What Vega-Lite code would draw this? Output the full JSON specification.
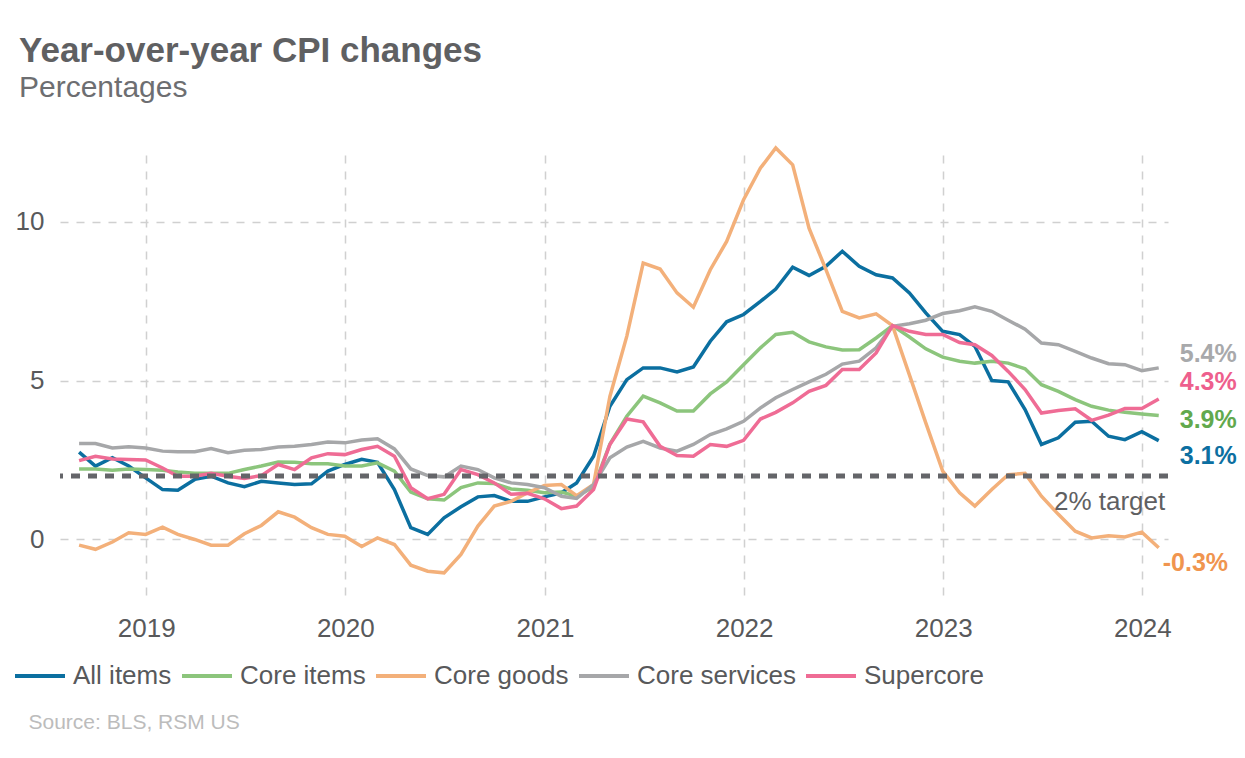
{
  "$schema": "https://vega.github.io/schema/vega-lite/v6.json",
  "width": 1108,
  "height": 448,
  "autosize": {"type": "none"},
  "padding": {"left": 60, "top": 155, "right": 77, "bottom": 155},
  "background": "white",
  "config": {"view": {"stroke": null}, "font": "Liberation Sans"},
  "title": {
    "text": "Year-over-year CPI changes",
    "subtitle": "Percentages",
    "anchor": "start",
    "frame": "group",
    "dx": -41,
    "offset": 38,
    "font": "Liberation Sans",
    "fontSize": 35,
    "fontWeight": "bold",
    "color": "#5f6062",
    "subtitleFont": "Liberation Sans",
    "subtitleFontSize": 30,
    "subtitleColor": "#6d6e71",
    "subtitlePadding": 4
  },
  "datasets": {
    "cpi": [
      {"d": "2018-08-31", "All items": 2.75, "Core items": 2.22, "Core goods": -0.18, "Core services": 3.02, "Supercore": 2.48},
      {"d": "2018-09-30", "All items": 2.31, "Core items": 2.22, "Core goods": -0.31, "Core services": 3.02, "Supercore": 2.62},
      {"d": "2018-10-31", "All items": 2.57, "Core items": 2.18, "Core goods": -0.08, "Core services": 2.88, "Supercore": 2.53},
      {"d": "2018-11-30", "All items": 2.31, "Core items": 2.22, "Core goods": 0.21, "Core services": 2.92, "Supercore": 2.52},
      {"d": "2018-12-31", "All items": 1.94, "Core items": 2.2, "Core goods": 0.16, "Core services": 2.88, "Supercore": 2.5},
      {"d": "2019-01-31", "All items": 1.57, "Core items": 2.18, "Core goods": 0.39, "Core services": 2.78, "Supercore": 2.25},
      {"d": "2019-02-28", "All items": 1.55, "Core items": 2.12, "Core goods": 0.16, "Core services": 2.76, "Supercore": 1.99},
      {"d": "2019-03-31", "All items": 1.89, "Core items": 2.08, "Core goods": 0.0, "Core services": 2.76, "Supercore": 1.99},
      {"d": "2019-04-30", "All items": 1.99, "Core items": 2.08, "Core goods": -0.18, "Core services": 2.86, "Supercore": 2.08},
      {"d": "2019-05-31", "All items": 1.78, "Core items": 2.08, "Core goods": -0.18, "Core services": 2.73, "Supercore": 1.99},
      {"d": "2019-06-30", "All items": 1.66, "Core items": 2.2, "Core goods": 0.18, "Core services": 2.81, "Supercore": 1.92},
      {"d": "2019-07-31", "All items": 1.83, "Core items": 2.31, "Core goods": 0.44, "Core services": 2.83, "Supercore": 2.01},
      {"d": "2019-08-31", "All items": 1.78, "Core items": 2.44, "Core goods": 0.87, "Core services": 2.91, "Supercore": 2.36},
      {"d": "2019-09-30", "All items": 1.73, "Core items": 2.43, "Core goods": 0.7, "Core services": 2.93, "Supercore": 2.2},
      {"d": "2019-10-31", "All items": 1.75, "Core items": 2.38, "Core goods": 0.37, "Core services": 2.99, "Supercore": 2.57},
      {"d": "2019-11-30", "All items": 2.15, "Core items": 2.38, "Core goods": 0.16, "Core services": 3.07, "Supercore": 2.7},
      {"d": "2019-12-31", "All items": 2.36, "Core items": 2.31, "Core goods": 0.1, "Core services": 3.04, "Supercore": 2.67},
      {"d": "2020-01-31", "All items": 2.52, "Core items": 2.31, "Core goods": -0.22, "Core services": 3.13, "Supercore": 2.83},
      {"d": "2020-02-29", "All items": 2.43, "Core items": 2.41, "Core goods": 0.05, "Core services": 3.17, "Supercore": 2.93},
      {"d": "2020-03-31", "All items": 1.57, "Core items": 2.15, "Core goods": -0.16, "Core services": 2.85, "Supercore": 2.62},
      {"d": "2020-04-30", "All items": 0.37, "Core items": 1.49, "Core goods": -0.81, "Core services": 2.22, "Supercore": 1.63},
      {"d": "2020-05-31", "All items": 0.16, "Core items": 1.28, "Core goods": -1.0, "Core services": 2.01, "Supercore": 1.28},
      {"d": "2020-06-30", "All items": 0.68, "Core items": 1.24, "Core goods": -1.05, "Core services": 1.97, "Supercore": 1.42},
      {"d": "2020-07-31", "All items": 1.03, "Core items": 1.63, "Core goods": -0.47, "Core services": 2.31, "Supercore": 2.2},
      {"d": "2020-08-31", "All items": 1.34, "Core items": 1.78, "Core goods": 0.42, "Core services": 2.2, "Supercore": 2.04},
      {"d": "2020-09-30", "All items": 1.38, "Core items": 1.76, "Core goods": 1.05, "Core services": 1.94, "Supercore": 1.78},
      {"d": "2020-10-31", "All items": 1.2, "Core items": 1.59, "Core goods": 1.2, "Core services": 1.78, "Supercore": 1.42},
      {"d": "2020-11-30", "All items": 1.2, "Core items": 1.55, "Core goods": 1.47, "Core services": 1.73, "Supercore": 1.45},
      {"d": "2020-12-31", "All items": 1.34, "Core items": 1.47, "Core goods": 1.7, "Core services": 1.63, "Supercore": 1.28},
      {"d": "2021-01-31", "All items": 1.47, "Core items": 1.49, "Core goods": 1.73, "Core services": 1.36, "Supercore": 0.97},
      {"d": "2021-02-28", "All items": 1.78, "Core items": 1.36, "Core goods": 1.38, "Core services": 1.29, "Supercore": 1.05},
      {"d": "2021-03-31", "All items": 2.62, "Core items": 1.65, "Core goods": 1.73, "Core services": 1.73, "Supercore": 1.57},
      {"d": "2021-04-30", "All items": 4.19, "Core items": 3.0, "Core goods": 4.5, "Core services": 2.57, "Supercore": 2.99},
      {"d": "2021-05-31", "All items": 5.03, "Core items": 3.88, "Core goods": 6.4, "Core services": 2.91, "Supercore": 3.79},
      {"d": "2021-06-30", "All items": 5.4, "Core items": 4.51, "Core goods": 8.7, "Core services": 3.09, "Supercore": 3.7},
      {"d": "2021-07-31", "All items": 5.4, "Core items": 4.3, "Core goods": 8.51, "Core services": 2.88, "Supercore": 2.93},
      {"d": "2021-08-31", "All items": 5.27, "Core items": 4.04, "Core goods": 7.76, "Core services": 2.78, "Supercore": 2.64},
      {"d": "2021-09-30", "All items": 5.43, "Core items": 4.04, "Core goods": 7.31, "Core services": 2.99, "Supercore": 2.62},
      {"d": "2021-10-31", "All items": 6.24, "Core items": 4.58, "Core goods": 8.49, "Core services": 3.3, "Supercore": 2.99},
      {"d": "2021-11-30", "All items": 6.85, "Core items": 4.96, "Core goods": 9.38, "Core services": 3.48, "Supercore": 2.93},
      {"d": "2021-12-31", "All items": 7.08, "Core items": 5.5, "Core goods": 10.69, "Core services": 3.72, "Supercore": 3.12},
      {"d": "2022-01-31", "All items": 7.49, "Core items": 6.03, "Core goods": 11.69, "Core services": 4.14, "Supercore": 3.79},
      {"d": "2022-02-28", "All items": 7.88, "Core items": 6.45, "Core goods": 12.32, "Core services": 4.46, "Supercore": 4.0},
      {"d": "2022-03-31", "All items": 8.57, "Core items": 6.52, "Core goods": 11.79, "Core services": 4.72, "Supercore": 4.3},
      {"d": "2022-04-30", "All items": 8.31, "Core items": 6.22, "Core goods": 9.8, "Core services": 4.96, "Supercore": 4.66},
      {"d": "2022-05-31", "All items": 8.6, "Core items": 6.06, "Core goods": 8.49, "Core services": 5.2, "Supercore": 4.85},
      {"d": "2022-06-30", "All items": 9.07, "Core items": 5.96, "Core goods": 7.18, "Core services": 5.52, "Supercore": 5.35},
      {"d": "2022-07-31", "All items": 8.6, "Core items": 5.97, "Core goods": 6.97, "Core services": 5.61, "Supercore": 5.35},
      {"d": "2022-08-31", "All items": 8.33, "Core items": 6.34, "Core goods": 7.1, "Core services": 6.03, "Supercore": 5.87},
      {"d": "2022-09-30", "All items": 8.23, "Core items": 6.73, "Core goods": 6.73, "Core services": 6.71, "Supercore": 6.73},
      {"d": "2022-10-31", "All items": 7.76, "Core items": 6.37, "Core goods": 5.18, "Core services": 6.79, "Supercore": 6.55},
      {"d": "2022-11-30", "All items": 7.13, "Core items": 6.0, "Core goods": 3.67, "Core services": 6.9, "Supercore": 6.45},
      {"d": "2022-12-31", "All items": 6.55, "Core items": 5.74, "Core goods": 2.15, "Core services": 7.11, "Supercore": 6.45},
      {"d": "2023-01-31", "All items": 6.45, "Core items": 5.61, "Core goods": 1.47, "Core services": 7.2, "Supercore": 6.2},
      {"d": "2023-02-28", "All items": 6.08, "Core items": 5.55, "Core goods": 1.05, "Core services": 7.32, "Supercore": 6.13},
      {"d": "2023-03-31", "All items": 5.0, "Core items": 5.61, "Core goods": 1.57, "Core services": 7.18, "Supercore": 5.79},
      {"d": "2023-04-30", "All items": 4.96, "Core items": 5.55, "Core goods": 2.04, "Core services": 6.9, "Supercore": 5.29},
      {"d": "2023-05-31", "All items": 4.09, "Core items": 5.37, "Core goods": 2.08, "Core services": 6.62, "Supercore": 4.72},
      {"d": "2023-06-30", "All items": 2.99, "Core items": 4.87, "Core goods": 1.36, "Core services": 6.18, "Supercore": 3.98},
      {"d": "2023-07-31", "All items": 3.2, "Core items": 4.66, "Core goods": 0.79, "Core services": 6.13, "Supercore": 4.06},
      {"d": "2023-08-31", "All items": 3.69, "Core items": 4.4, "Core goods": 0.26, "Core services": 5.92, "Supercore": 4.11},
      {"d": "2023-09-30", "All items": 3.72, "Core items": 4.19, "Core goods": 0.05, "Core services": 5.71, "Supercore": 3.75},
      {"d": "2023-10-31", "All items": 3.25, "Core items": 4.07, "Core goods": 0.12, "Core services": 5.53, "Supercore": 3.91},
      {"d": "2023-11-30", "All items": 3.14, "Core items": 4.0, "Core goods": 0.08, "Core services": 5.5, "Supercore": 4.12},
      {"d": "2023-12-31", "All items": 3.39, "Core items": 3.95, "Core goods": 0.23, "Core services": 5.31, "Supercore": 4.12},
      {"d": "2024-01-31", "All items": 3.11, "Core items": 3.9, "Core goods": -0.26, "Core services": 5.4, "Supercore": 4.42}
    ],
    "labels": [
      {"s": "Core services", "t": "5.4%", "v": 5.4, "d": "2024-01-31"},
      {"s": "Supercore", "t": "4.3%", "v": 4.3, "d": "2024-01-31"},
      {"s": "Core items", "t": "3.9%", "v": 3.9, "d": "2024-01-31"},
      {"s": "All items", "t": "3.1%", "v": 3.1, "d": "2024-01-31"},
      {"s": "Core goods", "t": "-0.3%", "v": -0.3, "d": "2024-01-31"}
    ],
    "target": [
      {"t": "2% target", "v": 2, "d": "2024-02-12"}
    ]
  },
  "layer": [
    {
      "data": {"name": "cpi"},
      "transform": [{"fold": ["All items", "Core items", "Core goods", "Core services", "Supercore"], "as": ["series", "val"]}],
      "mark": {"type": "line", "strokeWidth": 3.5},
      "encoding": {
        "x": {
          "field": "d", "type": "temporal",
          "scale": {"type": "utc", "domain": [{"year": 2018, "month": 7, "date": 27, "utc": true}, {"year": 2024, "month": 2, "date": 17, "utc": true}]},
          "axis": {
            "values": [{"year": 2019, "month": 1, "date": 1, "utc": true}, {"year": 2020, "month": 1, "date": 1, "utc": true}, {"year": 2021, "month": 1, "date": 1, "utc": true}, {"year": 2022, "month": 1, "date": 1, "utc": true}, {"year": 2023, "month": 1, "date": 1, "utc": true}, {"year": 2024, "month": 1, "date": 1, "utc": true}],
            "format": "%Y",
            "grid": true, "gridDash": [8, 8], "gridColor": "#d0d0d0", "gridWidth": 1.5,
            "ticks": false, "domain": false,
            "labelFontSize": 26, "labelColor": "#58595b", "labelPadding": 12, "labelFont": "Liberation Sans",
            "title": "Source: BLS, RSM US",
            "titleX": -32, "titleY": 119, "titleAlign": "left", "titleBaseline": "middle",
            "titleFontSize": 21, "titleFontWeight": "normal", "titleColor": "#bcbcbc", "titleFont": "Liberation Sans"
          }
        },
        "y": {
          "field": "val", "type": "quantitative",
          "scale": {"domain": [-2, 12.1], "nice": false, "zero": false},
          "axis": {
            "values": [0, 5, 10], "title": null,
            "grid": true, "gridDash": [8, 8], "gridColor": "#d0d0d0", "gridWidth": 1.5,
            "ticks": false, "domain": false,
            "labelFontSize": 26, "labelColor": "#58595b", "labelPadding": 16, "labelFont": "Liberation Sans"
          }
        },
        "color": {
          "field": "series", "type": "nominal",
          "scale": {"domain": ["All items", "Core items", "Core goods", "Core services", "Supercore"], "range": ["#0b6fa0", "#8cc57c", "#f3b07a", "#a6a7a9", "#ef6c95"]},
          "legend": {
            "orient": "none", "legendX": -47, "legendY": 494, "direction": "horizontal", "title": null,
            "symbolType": "stroke", "symbolSize": 2500, "symbolStrokeWidth": 4,
            "labelFontSize": 26, "labelColor": "#58595b", "labelFont": "Liberation Sans",
            "labelOffset": 6, "columnPadding": 2, "padding": 0
          }
        }
      }
    },
    {
      "data": {"name": "target"},
      "mark": {"type": "rule", "strokeDash": [9, 8], "strokeWidth": 5, "color": "#646569"},
      "encoding": {
        "y": {"field": "v", "type": "quantitative", "scale": {"domain": [-2, 12.1], "nice": false, "zero": false}}
      }
    },
    {
      "data": {"name": "target"},
      "mark": {"type": "text", "align": "right", "baseline": "middle", "dy": 26, "fontSize": 26, "color": "#5f6062", "font": "Liberation Sans"},
      "encoding": {
        "x": {"field": "d", "type": "temporal", "scale": {"type": "utc", "domain": [{"year": 2018, "month": 7, "date": 27, "utc": true}, {"year": 2024, "month": 2, "date": 17, "utc": true}]}},
        "y": {"field": "v", "type": "quantitative", "scale": {"domain": [-2, 12.1], "nice": false, "zero": false}},
        "text": {"field": "t"}
      }
    },
    {
      "data": {"name": "labels"},
      "transform": [{"filter": {"field": "s", "equal": "Core services"}}],
      "mark": {"type": "text", "align": "left", "baseline": "middle", "dx": 21, "dy": -14, "fontSize": 25, "fontWeight": "bold", "color": "#a8a9ab", "font": "Liberation Sans"},
      "encoding": {
        "x": {"field": "d", "type": "temporal", "scale": {"type": "utc", "domain": [{"year": 2018, "month": 7, "date": 27, "utc": true}, {"year": 2024, "month": 2, "date": 17, "utc": true}]}},
        "y": {"field": "v", "type": "quantitative", "scale": {"domain": [-2, 12.1], "nice": false, "zero": false}},
        "text": {"field": "t"}
      }
    },
    {
      "data": {"name": "labels"},
      "transform": [{"filter": {"field": "s", "equal": "Supercore"}}],
      "mark": {"type": "text", "align": "left", "baseline": "middle", "dx": 21, "dy": -21, "fontSize": 25, "fontWeight": "bold", "color": "#ee5f8d", "font": "Liberation Sans"},
      "encoding": {
        "x": {"field": "d", "type": "temporal", "scale": {"type": "utc", "domain": [{"year": 2018, "month": 7, "date": 27, "utc": true}, {"year": 2024, "month": 2, "date": 17, "utc": true}]}},
        "y": {"field": "v", "type": "quantitative", "scale": {"domain": [-2, 12.1], "nice": false, "zero": false}},
        "text": {"field": "t"}
      }
    },
    {
      "data": {"name": "labels"},
      "transform": [{"filter": {"field": "s", "equal": "Core items"}}],
      "mark": {"type": "text", "align": "left", "baseline": "middle", "dx": 21, "dy": 4, "fontSize": 25, "fontWeight": "bold", "color": "#62a94d", "font": "Liberation Sans"},
      "encoding": {
        "x": {"field": "d", "type": "temporal", "scale": {"type": "utc", "domain": [{"year": 2018, "month": 7, "date": 27, "utc": true}, {"year": 2024, "month": 2, "date": 17, "utc": true}]}},
        "y": {"field": "v", "type": "quantitative", "scale": {"domain": [-2, 12.1], "nice": false, "zero": false}},
        "text": {"field": "t"}
      }
    },
    {
      "data": {"name": "labels"},
      "transform": [{"filter": {"field": "s", "equal": "All items"}}],
      "mark": {"type": "text", "align": "left", "baseline": "middle", "dx": 21, "dy": 15, "fontSize": 25, "fontWeight": "bold", "color": "#0c6fa1", "font": "Liberation Sans"},
      "encoding": {
        "x": {"field": "d", "type": "temporal", "scale": {"type": "utc", "domain": [{"year": 2018, "month": 7, "date": 27, "utc": true}, {"year": 2024, "month": 2, "date": 17, "utc": true}]}},
        "y": {"field": "v", "type": "quantitative", "scale": {"domain": [-2, 12.1], "nice": false, "zero": false}},
        "text": {"field": "t"}
      }
    },
    {
      "data": {"name": "labels"},
      "transform": [{"filter": {"field": "s", "equal": "Core goods"}}],
      "mark": {"type": "text", "align": "left", "baseline": "middle", "dx": 4, "dy": 14, "fontSize": 25, "fontWeight": "bold", "color": "#f0954f", "font": "Liberation Sans"},
      "encoding": {
        "x": {"field": "d", "type": "temporal", "scale": {"type": "utc", "domain": [{"year": 2018, "month": 7, "date": 27, "utc": true}, {"year": 2024, "month": 2, "date": 17, "utc": true}]}},
        "y": {"field": "v", "type": "quantitative", "scale": {"domain": [-2, 12.1], "nice": false, "zero": false}},
        "text": {"field": "t"}
      }
    }
  ]
}
